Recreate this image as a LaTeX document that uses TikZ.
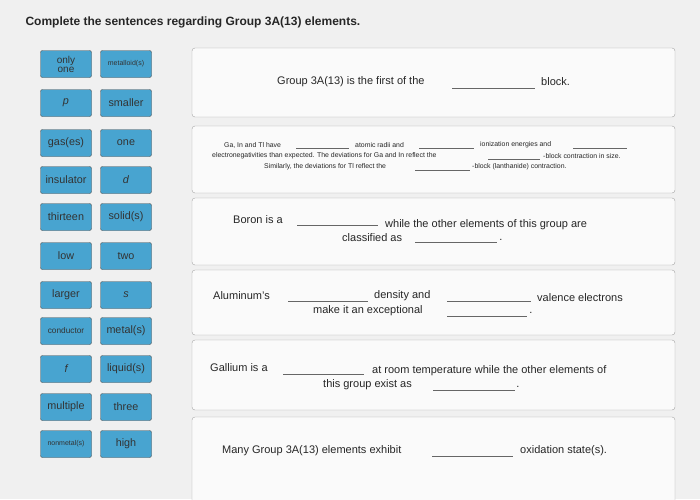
\documentclass[tikz,border=0pt]{standalone}
\usepackage{fontspec}
\setmainfont{Liberation Sans}
\definecolor{tilec}{RGB}{72,164,208}
\begin{document}
\begin{tikzpicture}[x=1pt,y=-1pt,
 tile/.style={draw=black!70,fill=tilec,rounded corners=2pt,minimum width=51,minimum height=27,inner sep=1pt,font=\fontsize{10.8}{10}\selectfont,text=black!80},
 tiny/.style={tile,font=\fontsize{7}{7}\selectfont},
 qbox/.style={draw=black!35,fill=white!96!gray,rounded corners=3pt},
 txt/.style={font=\fontsize{11}{12}\selectfont,text=black!85,inner sep=0},
 stxt/.style={font=\fontsize{6.9}{8}\selectfont,text=black!85,inner sep=0},
 blank/.style={draw=black!60,line width=0.5pt}]
\fill[gray!12] (0,0) rectangle (700,499);
\useasboundingbox (0,0) rectangle (700,499);
\node[anchor=west,font=\bfseries\fontsize{12}{12}\selectfont,text=black!85] (title) at (22,22) {Complete the sentences regarding Group 3A(13) elements.};
% tiles
\node[tile,align=center,font=\fontsize{10}{9}\selectfont] (t1) at (66,64) {only\\one};
\node[tiny] (t2) at (126,64) {metalloid(s)};
\node[tile] (t3) at (66,103) {\itshape p};
\node[tile] (t4) at (126,103) {smaller};
\node[tile] (t5) at (66,143) {gas(es)};
\node[tile] (t6) at (126,143) {one};
\node[tile] (t7) at (66,180) {insulator};
\node[tile] (t8) at (126,180) {\itshape d};
\node[tile] (t9) at (66,217) {thirteen};
\node[tile] (t10) at (126,217) {solid(s)};
\node[tile] (t11) at (66,256) {low};
\node[tile] (t12) at (126,256) {two};
\node[tile] (t13) at (66,295) {larger};
\node[tile] (t14) at (126,295) {\itshape s};
\node[tiny,font=\fontsize{8.3}{8}\selectfont] (t15) at (66,331) {conductor};
\node[tile] (t16) at (126,331) {metal(s)};
\node[tile] (t17) at (66,369) {\itshape f};
\node[tile] (t18) at (126,369) {liquid(s)};
\node[tile] (t19) at (66,407) {multiple};
\node[tile] (t20) at (126,407) {three};
\node[tiny] (t21) at (66,444) {nonmetal(s)};
\node[tile] (t22) at (126,444) {high};
% boxes
\draw[qbox] (192,48) rectangle (675,117);
\draw[qbox] (192,126) rectangle (675,193);
\draw[qbox] (192,198) rectangle (675,265);
\draw[qbox] (192,270) rectangle (675,335);
\draw[qbox] (192,340) rectangle (675,410);
\draw[qbox] (192,417) rectangle (675,510);
% box1
\node[txt,anchor=west] (b1) at (277,82) {Group 3A(13) is the first of the};
\draw[blank] (452,88) -- (535,88);
\node[txt,anchor=west] (b1b) at (541,82) {block.};
% box2
\node[stxt,anchor=west] (b2a) at (224,145) {Ga, In and Tl have};
\draw[blank] (296,148) -- (349,148);
\node[stxt,anchor=west] (b2b) at (355,145) {atomic radii and};
\draw[blank] (419,148) -- (474,148);
\node[stxt,anchor=west] (b2c) at (480,145) {ionization energies and};
\draw[blank] (573,148) -- (627,148);
\node[stxt,anchor=west] (b2d) at (212,156) {electronegativities than expected. The deviations for Ga and In reflect the};
\draw[blank] (488,159) -- (540,159);
\node[stxt,anchor=west] (b2e) at (543,156) {-block contraction in size.};
\node[stxt,anchor=west] (b2f) at (264,167) {Similarly, the deviations for Tl reflect the};
\draw[blank] (415,170) -- (470,170);
\node[stxt,anchor=west] (b2g) at (472,167) {-block (lanthanide) contraction.};
% box3
\node[txt,anchor=west] (b3a) at (233,220) {Boron is a};
\draw[blank] (297,225) -- (378,225);
\node[txt,anchor=west] (b3b) at (385,225) {while the other elements of this group are};
\node[txt,anchor=west] (b3c) at (342,238) {classified as};
\draw[blank] (415,242) -- (497,242);
\node[txt] (b3d) at (501,240) {.};
% box4
\node[txt,anchor=west] (b4a) at (213,296) {Aluminum's};
\draw[blank] (288,301) -- (368,301);
\node[txt,anchor=west] (b4b) at (374,296) {density and};
\draw[blank] (447,301) -- (531,301);
\node[txt,anchor=west] (b4c) at (537,298) {valence electrons};
\node[txt,anchor=west] (b4d) at (313,311) {make it an exceptional};
\draw[blank] (447,316) -- (527,316);
\node[txt] (b4e) at (531,313) {.};
% box5
\node[txt,anchor=west] (b5a) at (210,368) {Gallium is a};
\draw[blank] (283,374) -- (364,374);
\node[txt,anchor=west] (b5b) at (372,371) {at room temperature while the other elements of};
\node[txt,anchor=west] (b5c) at (323,385) {this group exist as};
\draw[blank] (433,390) -- (515,390);
\node[txt] (b5d) at (518,387) {.};
% box6
\node[txt,anchor=west] (b6a) at (222,451) {Many Group 3A(13) elements exhibit};
\draw[blank] (432,456) -- (513,456);
\node[txt,anchor=west] (b6b) at (520,451) {oxidation state(s).};
\end{tikzpicture}
\end{document}
